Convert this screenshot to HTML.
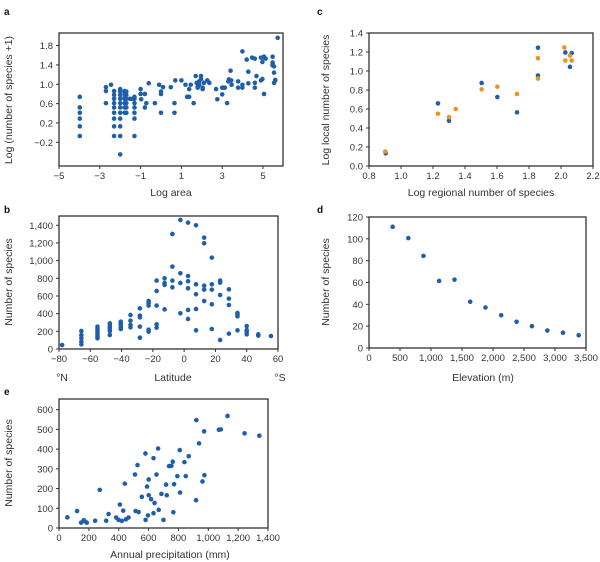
<!DOCTYPE html>
<html><head><meta charset="utf-8">
<style>
body{margin:0;background:#fff;}
svg{display:block;font-family:"Liberation Sans",Arial,sans-serif;}
.t{font-size:9.5px;fill:#333;}
.l{font-size:10.5px;fill:#333;}
.p{font-size:10px;font-weight:bold;fill:#111;}
</style></head>
<body>
<svg id="chart" width="600" height="562" viewBox="0 0 600 562" xmlns="http://www.w3.org/2000/svg"></svg>
<script>
// Panel a
const aX=[-3.98,-3.98,-3.98,-3.98,-3.98,-3.98,-2.7,-2.7,-2.7,-2.45,-2.3,-2.3,-2.3,-2.3,-2.3,-2.3,-2.3,-2.3,-2.3,-2.0,-2.0,-2.0,-2.0,-2.0,-2.0,-2.0,-2.0,-2.0,-2.0,-2.0,-1.78,-1.78,-1.78,-1.78,-1.78,-1.78,-1.78,-1.7,-1.7,-1.7,-1.7,-1.7,-1.7,-1.53,-1.4,-1.3,-1.3,-1.3,-1.3,-1.3,-1.3,-1.3,-1.0,-1.0,-0.97,-0.79,-0.79,-0.72,-0.6,-0.3,-0.09,0,0,0,0.1,0.48,0.66,0.66,0.7,1.0,1.2,1.28,1.38,1.38,1.46,1.6,1.7,1.75,1.8,1.8,1.87,1.87,1.96,1.96,2.04,2.04,2.1,2.27,2.37,2.7,2.76,3.0,3.0,3.07,3.13,3.24,3.3,3.33,3.41,3.44,3.46,3.78,3.78,3.99,3.99,3.99,4.2,4.28,4.28,4.47,4.6,4.6,4.6,4.68,4.9,4.9,4.97,4.97,5.05,5.05,5.05,5.13,5.47,5.47,5.47,5.47,5.54,5.54,5.54,5.6,5.6,5.72];
const aY=[0.74,0.52,0.41,0.29,0.13,-0.07,0.94,0.86,0.61,0.99,0.86,0.78,0.70,0.61,0.52,0.41,0.29,0.13,-0.07,0.9,0.85,0.78,0.7,0.61,0.52,0.41,0.29,0.13,-0.07,-0.45,0.86,0.81,0.74,0.7,0.61,0.52,0.41,0.85,0.78,0.70,0.61,0.52,0.41,0.7,0.7,0.74,0.7,0.61,0.52,0.41,0.29,-0.07,0.9,0.8,0.69,0.8,0.52,0.61,1.02,0.61,0.99,0.85,0.8,0.41,0.94,0.94,0.61,0.41,1.08,1.08,0.99,0.74,0.9,0.74,0.99,0.61,1.17,1.03,0.95,0.93,0.99,1.06,1.17,1.11,0.93,0.9,1.03,1.08,1.03,0.9,0.69,0.93,0.79,0.93,0.93,0.61,1.06,1.1,1.28,1.08,0.99,0.93,1.06,0.99,0.93,1.68,1.51,1.02,1.26,1.55,1.03,0.93,1.53,1.17,1.08,1.55,1.46,1.11,1.57,1.55,0.8,1.53,1.57,1.42,1.45,1.39,1.24,1.37,1.03,1.09,1.08,1.96];
// Panel b
const bX=[-78,-65.7,-65.7,-65.7,-65.7,-65.7,-55.4,-55.4,-55.4,-55.4,-55.4,-55.4,-55.4,-47.5,-47.5,-47.5,-47.5,-47.5,-47.5,-40.5,-40.5,-40.5,-40.5,-40.5,-34.3,-34.3,-34.3,-34.3,-28.3,-28.3,-28.3,-28.3,-28.3,-22.7,-22.7,-22.7,-22.7,-22.7,-17.6,-17.6,-17.6,-17.6,-17.6,-12.5,-12.5,-12.5,-12.5,-7.5,-7.5,-7.5,-7.5,-2.4,-2.4,-2.4,-2.4,2.5,2.5,2.5,2.5,2.5,2.5,7.6,7.6,7.6,7.6,7.6,12.8,12.8,12.8,12.8,12.8,17.7,17.7,17.7,17.7,17.7,23,23,23,23,28.6,28.6,28.6,28.6,34.1,34.1,34.1,34.1,40,40,40,40,47.4,47.4,55.5];
const bY=[45,204,158,121,83,53,253,226,204,177,158,136,121,290,264,245,226,204,158,309,290,272,245,226,385,321,272,245,460,377,358,253,128,543,517,491,219,196,774,657,491,279,242,800,747,725,449,1302,932,774,698,1460,857,747,404,1430,826,766,687,442,340,1400,732,619,453,211,1260,1196,717,672,543,1034,732,672,506,226,774,751,611,102,675,570,498,174,408,392,370,211,260,215,196,166,166,151,147];
// Panel c
const cBlueX=[0.904,1.231,1.30,1.504,1.602,1.725,1.856,1.856,2.027,2.067,2.056];
const cBlueY=[0.134,0.659,0.476,0.874,0.726,0.564,1.245,0.952,1.195,1.188,1.044];
const cOrX=[0.902,1.231,1.30,1.342,1.504,1.602,1.725,1.856,1.856,2.021,2.027,2.056,2.067];
const cOrY=[0.152,0.55,0.515,0.6,0.807,0.835,0.758,1.135,0.92,1.248,1.11,1.163,1.11];
// Panel d
const dX=[382,635,878,1131,1379,1632,1879,2132,2380,2628,2876,3129,3382];
const dY=[111,100.7,84.4,61.4,62.6,42.4,37.1,30,24,20,16,14,11.7];
// Panel e
const eX=[56,121,148,166,172,186,242,273,316,332,383,399,408,421,430,441,448,466,509,513,526,533,555,580,579,590,596,601,601,617,633,633,640,653,664,668,686,700,717,722,737,753,762,766,771,793,809,811,840,849,869,918,920,938,961,972,974,1071,1084,1129,1243,1342];
const eY=[54,86,27,39,34,27,37,193,37,71,53,41,119,36,88,225,44,53,271,86,319,81,158,41,378,210,64,246,166,146,354,75,127,271,403,92,173,41,220,166,314,315,336,80,222,263,395,180,334,263,364,141,547,429,236,490,268,498,500,568,480,468];
// tick labels
const aXT=[-5,-3,-1,1,3,5], aYT=[-0.2,0.2,0.6,1.0,1.4,1.8], aYL=["\u22120.2","0.2","0.6","1.0","1.4","1.8"], aXL=["\u22125","\u22123","\u22121","1","3","5"];
const bXT=[-80,-60,-40,-20,0,20,40,60], bXL=["\u221280","\u221260","\u221240","\u221220","0","20","40","60"], bYT=[0,200,400,600,800,1000,1200,1400], bYL=["0","200","400","600","800","1,000","1,200","1,400"];
const cXT=[0.8,1.0,1.2,1.4,1.6,1.8,2.0,2.2], cXL=["0.8","1.0","1.2","1.4","1.6","1.8","2.0","2.2"], cYT=[0,0.2,0.4,0.6,0.8,1.0,1.2,1.4], cYL=["0.0","0.2","0.4","0.6","0.8","1.0","1.2","1.4"];
const dXT=[0,500,1000,1500,2000,2500,3000,3500], dXL=["0","500","1,000","1,500","2,000","2,500","3,000","3,500"], dYT=[0,20,40,60,80,100,120], dYL=["0","20","40","60","80","100","120"];
const eXT=[0,200,400,600,800,1000,1200,1400], eXL=["0","200","400","600","800","1,000","1,200","1,400"], eYT=[0,100,200,300,400,500,600], eYL=["0","100","200","300","400","500","600"];

const svg=document.getElementById('chart');
const NS='http://www.w3.org/2000/svg';
function mk(tag,at,parent){const e=document.createElementNS(NS,tag);for(const k in at)e.setAttribute(k,at[k]);(parent||svg).appendChild(e);return e;}
function txt(s,x,y,cls,anchor,parent,rot){const e=mk('text',{x:x,y:y,class:cls,'text-anchor':anchor||'middle'},parent);if(rot)e.setAttribute('transform','rotate(-90 '+x+' '+y+')');e.textContent=s;return e;}

function panel(name,box,xd,yd,xt,xl,yt,yl){
  const g=mk('g',{});
  
  
  const sx=v=>box.x0+(v-xd[0])/(xd[1]-xd[0])*(box.x1-box.x0);
  const sy=v=>box.y1-(v-yd[0])/(yd[1]-yd[0])*(box.y1-box.y0);
  const fr=mk('rect',{x:box.x0,y:box.y0,width:box.x1-box.x0,height:box.y1-box.y0,fill:'none',stroke:'#333','stroke-width':1.3},g);
  
  
  xt.forEach((v,i)=>{const x=sx(v);
    mk('line',{x1:x,x2:x,y1:box.y1,y2:box.y1+3,stroke:'#333'},g);
    const t=txt(xl[i],x,box.y1+13,'t','middle',g);
    
    });
  yt.forEach((v,i)=>{const y=sy(v);
    mk('line',{x1:box.x0,x2:box.x0-3,y1:y,y2:y,stroke:'#333'},g);
    const t=txt(yl[i],box.x0-6,y+3.5,'t','end',g);
    
    });
  return {g,sx,sy};
}
function dots(p,xs,ys,color,name){
  xs.forEach((v,i)=>{const c=mk('circle',{cx:p.sx(v),cy:p.sy(ys[i]),r:2.3,fill:color},p.g);
    
    });
}
const BLUE='#1f5fa9', OR='#ec9220';

const pa=panel('panel-a',{x0:59,x1:283,y0:33,y1:166},[-5,5.98],[-0.69,2.06],aXT,aXL,aYT,aYL);
dots(pa,aX,aY,BLUE,'point-a');
const pb=panel('panel-b',{x0:59,x1:278,y0:216,y1:349},[-80,60],[0,1505],bXT,bXL,bYT,bYL);
dots(pb,bX,bY,BLUE,'point-b');
const pc=panel('panel-c',{x0:369,x1:593,y0:33,y1:166},[0.8,2.2],[0,1.4],cXT,cXL,cYT,cYL);
dots(pc,cBlueX,cBlueY,BLUE,'point-c-blue');
dots(pc,cOrX,cOrY,OR,'point-c-orange');
const pd=panel('panel-d',{x0:369,x1:586,y0:217,y1:348},[0,3500],[0,120],dXT,dXL,dYT,dYL);
dots(pd,dX,dY,BLUE,'point-d');
const pe=panel('panel-e',{x0:59,x1:268,y0:399,y1:528},[0,1400],[0,654],eXT,eXL,eYT,eYL);
dots(pe,eX,eY,BLUE,'point-e');

function label(s,x,y,cls,name,rot,anchor){const t=txt(s,x,y,cls,anchor||'middle',svg,rot);
  
  }
label('a',4,15,'p','panel-letter-a',false,'start');
label('b',4,213,'p','panel-letter-b',false,'start');
label('c',317,15,'p','panel-letter-c',false,'start');
label('d',317,213,'p','panel-letter-d',false,'start');
label('e',4,395,'p','panel-letter-e',false,'start');
label('Log area',171,196,'l','x-axis-title-a');
label('Log (number of species +1)',12,100,'l','y-axis-title-a',true);
label('Latitude',173,381,'l','x-axis-title-b');
label('\u00b0N',62,381,'l','north-label');
label('\u00b0S',280,381,'l','south-label');
label('Number of species',12,282,'l','y-axis-title-b',true);
label('Log regional number of species',481,196,'l','x-axis-title-c');
label('Log local number of species',329,100,'l','y-axis-title-c',true);
label('Elevation (m)',483,381,'l','x-axis-title-d');
label('Number of species',329,282,'l','y-axis-title-d',true);
label('Annual precipitation (mm)',170,558,'l','x-axis-title-e');
label('Number of species',12,463,'l','y-axis-title-e',true);
</script>
</body></html>
